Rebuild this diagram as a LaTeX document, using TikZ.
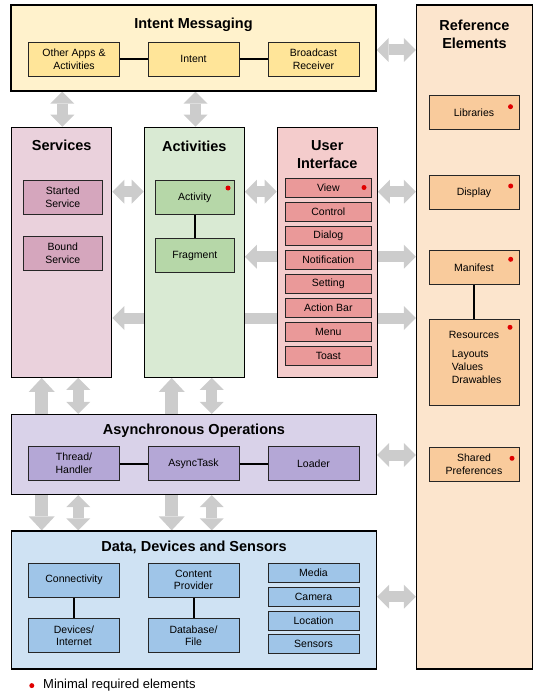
\documentclass[tikz,border=0pt]{standalone}
\usepackage{fontspec}
\setmainfont{Liberation Sans}
\usetikzlibrary{arrows.meta,backgrounds}
\definecolor{imfill}{HTML}{FFF2CC}
\definecolor{iminner}{HTML}{FFE599}
\definecolor{svfill}{HTML}{EAD1DC}
\definecolor{svinner}{HTML}{D5A6BD}
\definecolor{acfill}{HTML}{D9EAD3}
\definecolor{acinner}{HTML}{B6D7A8}
\definecolor{uifill}{HTML}{F4CCCC}
\definecolor{uiinner}{HTML}{EA9999}
\definecolor{reffill}{HTML}{FCE5CD}
\definecolor{refinner}{HTML}{F9CB9C}
\definecolor{asfill}{HTML}{D9D2E9}
\definecolor{asinner}{HTML}{B4A7D6}
\definecolor{dafill}{HTML}{CFE2F3}
\definecolor{dainner}{HTML}{9FC5E8}
\definecolor{arrgray}{HTML}{CCCCCC}
\definecolor{dotred}{HTML}{E00000}
\begin{document}
\begin{tikzpicture}[x=1pt,y=-1pt,
  BigT/.tip={Triangle[width=24pt,length=12pt,line width=0pt]},
  BigS/.tip={Triangle[width=26pt,length=14pt,line width=0pt]},
  obox/.style={draw=black,line width=1.2pt,inner sep=0pt},
  ibox/.style={draw=black!85,line width=1pt,inner sep=1pt,align=center,
    font=\fontsize{10.5}{12.7}\selectfont},
  ttl/.style={font=\fontsize{14.5}{18}\selectfont\bfseries,align=center,inner sep=0pt},
  link/.style={draw=black,line width=2pt},
  rdot/.style={circle,fill=dotred,inner sep=0pt,minimum size=5pt},
  darrow/.style={draw=arrgray,line width=11pt,arrows=BigT-BigT},
  sarrow/.style={draw=arrgray,line width=13pt,arrows=-BigS},
  wide/.style={minimum width=91pt,minimum height=34pt},
  uiitem/.style={ibox,fill=uiinner,minimum width=86pt,minimum height=18.7pt,inner sep=0pt},
  refitem/.style={ibox,fill=refinner,minimum width=90pt,minimum height=34pt},
  sens/.style={ibox,fill=dainner,minimum width=91pt,minimum height=19pt,inner sep=0pt}
]
\useasboundingbox (0,0) rectangle (543,698);

% ---------- outer boxes ----------
\node[obox,fill=imfill,minimum width=365pt,minimum height=86pt] (intentbox) at (193.5,48) {};
\node[obox,fill=reffill,minimum width=116pt,minimum height=664pt] (refbox) at (474.5,337) {};
\node[obox,fill=svfill,minimum width=100pt,minimum height=250pt] (servbox) at (61.7,252.3) {};
\node[obox,fill=acfill,minimum width=100pt,minimum height=250pt] (actbox) at (194.3,252.3) {};
\node[obox,fill=uifill,minimum width=100pt,minimum height=250pt] (uibox) at (327.3,252.3) {};
\node[obox,fill=asfill,minimum width=365pt,minimum height=80pt] (asyncbox) at (194,454.5) {};
\node[obox,fill=dafill,minimum width=365pt,minimum height=138pt] (databox) at (194,600) {};

% ---------- titles ----------
\node[ttl] (intentttl) at (193.5,25) {Intent Messaging};
\node[ttl] (refttl) at (474.5,34.5) {Reference\\Elements};
\node[ttl] (servttl) at (61.7,145.7) {Services};
\node[ttl] (actttl) at (194.3,146.7) {Activities};
\node[ttl] (uittl) at (327.3,154.5) {User\\Interface};
\node[ttl] (asyncttl) at (194,430.7) {Asynchronous Operations};
\node[ttl] (datattl) at (194,547) {Data, Devices and Sensors};

% ---------- intent messaging ----------
\node[ibox,fill=iminner,wide] (otherapps) at (74,59.3) {Other Apps \&\\Activities};
\node[ibox,fill=iminner,wide] (intent) at (193.5,59.3) {Intent};
\node[ibox,fill=iminner,wide] (broadcast) at (313.5,59.3) {Broadcast\\Receiver};
\draw[link] (otherapps) -- (intent);
\draw[link] (intent) -- (broadcast);

% ---------- services ----------
\node[ibox,fill=svinner,minimum width=79pt,minimum height=33.6pt] (started) at (62.8,197.5) {Started\\Service};
\node[ibox,fill=svinner,minimum width=79pt,minimum height=33.6pt] (bound) at (62.8,253.5) {Bound\\Service};

% ---------- activities ----------
\node[ibox,fill=acinner,minimum width=79pt,minimum height=33.6pt] (activity) at (194.8,197.5) {Activity};
\node[ibox,fill=acinner,minimum width=79pt,minimum height=33.6pt] (fragment) at (194.8,255.5) {Fragment};
\draw[link] (activity) -- (fragment);

% ---------- user interface ----------
\node[uiitem] (view) at (328.3,188.2) {View};
\node[uiitem] (control) at (328.3,212.2) {Control};
\node[uiitem] (dialog) at (328.3,236.2) {Dialog};
\node[uiitem] (notification) at (328.3,260.2) {Notification};
\node[uiitem] (setting) at (328.3,284.2) {Setting};
\node[uiitem] (actionbar) at (328.3,308.2) {Action Bar};
\node[uiitem] (menu) at (328.3,332.2) {Menu};
\node[uiitem] (toast) at (328.3,356.2) {Toast};

% ---------- reference elements ----------
\node[refitem] (libraries) at (474,112.5) {Libraries};
\node[refitem] (display) at (474,192.3) {Display};
\node[refitem] (manifest) at (474,267.3) {Manifest};
\node[refitem,minimum height=86pt] (resources) at (474,362.3) {};
\node[font=\fontsize{10.5}{13}\selectfont,inner sep=0pt] (restitle) at (474,335) {Resources};
\node[font=\fontsize{10.5}{13}\selectfont,inner sep=0pt,anchor=west,align=left] (reslist) at (451.7,367.3) {Layouts\\Values\\Drawables};
\node[refitem] (shared) at (474,464.5) {Shared\\Preferences};
\draw[link] (manifest) -- (resources);

% ---------- asynchronous operations ----------
\node[ibox,fill=asinner,minimum width=91pt,minimum height=34.4pt] (thread) at (74,463.5) {Thread/\\Handler};
\node[ibox,fill=asinner,minimum width=91pt,minimum height=34.4pt] (asynctask) at (193.5,463.5) {AsyncTask};
\node[ibox,fill=asinner,minimum width=91pt,minimum height=34.4pt] (loader) at (313.5,463.5) {Loader};
\draw[link] (thread) -- (asynctask);
\draw[link] (asynctask) -- (loader);

% ---------- data, devices and sensors ----------
\node[ibox,fill=dainner,wide] (connectivity) at (74,580) {Connectivity};
\node[ibox,fill=dainner,wide] (devices) at (74,635.6) {Devices/\\Internet};
\node[ibox,fill=dainner,wide] (content) at (193.5,580) {Content\\Provider};
\node[ibox,fill=dainner,wide] (database) at (193.5,635.6) {Database/\\File};
\node[sens] (media) at (313.5,572.5) {Media};
\node[sens] (camera) at (313.5,596.5) {Camera};
\node[sens] (location) at (313.5,620.5) {Location};
\node[sens] (sensors) at (313.5,644.2) {Sensors};
\draw[link] (connectivity) -- (devices);
\draw[link] (content) -- (database);

% ---------- red dots ----------
\node[rdot] (dotact) at (228,188) {};
\node[rdot] (dotview) at (364,187.5) {};
\node[rdot] (dotlib) at (510.5,106.7) {};
\node[rdot] (dotdisp) at (510.7,186) {};
\node[rdot] (dotman) at (510.7,259.3) {};
\node[rdot] (dotres) at (510,327.3) {};
\node[rdot] (dotshared) at (512,458.3) {};

% ---------- legend ----------
\node[rdot] (legdot) at (31.8,685.6) {};
\node[anchor=west,inner sep=0pt,font=\fontsize{13}{15}\selectfont] (legtxt) at (43,685.6) {Minimal required elements};

% ---------- gray block arrows ----------
\coordinate (yA) at (0,191.7);
\coordinate (yB) at (0,256.7);
\coordinate (yC) at (0,318);
\coordinate (yD) at (0,596.7);
\coordinate (yE) at (0,50);
\coordinate (yF) at (0,455);
\coordinate (xA) at (41.7,0);
\coordinate (xB) at (78.3,0);
\coordinate (xC) at (171.7,0);
\coordinate (xD) at (211.7,0);
\coordinate (xE) at (62.3,0);
\coordinate (xF) at (195.5,0);
\begin{scope}[on background layer]
\draw[darrow] (intentbox.east |- yE) -- (refbox.west |- yE);
\draw[darrow] (xE |- intentbox.south) -- (xE |- servbox.north);
\draw[darrow] (xF |- intentbox.south) -- (xF |- actbox.north);
\draw[darrow] (servbox.east |- yA) -- (actbox.west |- yA);
\draw[darrow] (actbox.east |- yA) -- (uibox.west |- yA);
\draw[darrow] (uibox.east |- yA) -- (refbox.west |- yA);
\draw[darrow] (actbox.east |- yB) -- (refbox.west |- yB);
\draw[darrow] (servbox.east |- yC) -- (refbox.west |- yC);
\draw[darrow] (asyncbox.east |- yF) -- (refbox.west |- yF);
\draw[darrow] (databox.east |- yD) -- (refbox.west |- yD);
\draw[sarrow] (xA |- asyncbox.north) -- (xA |- servbox.south);
\draw[darrow] (xB |- servbox.south) -- (xB |- asyncbox.north);
\draw[sarrow] (xC |- asyncbox.north) -- (xC |- actbox.south);
\draw[darrow] (xD |- actbox.south) -- (xD |- asyncbox.north);
\draw[sarrow] (xA |- asyncbox.south) -- (xA |- databox.north);
\draw[darrow] (xB |- asyncbox.south) -- (xB |- databox.north);
\draw[sarrow] (xC |- asyncbox.south) -- (xC |- databox.north);
\draw[darrow] (xD |- asyncbox.south) -- (xD |- databox.north);
\end{scope}
\end{tikzpicture}
\end{document}
